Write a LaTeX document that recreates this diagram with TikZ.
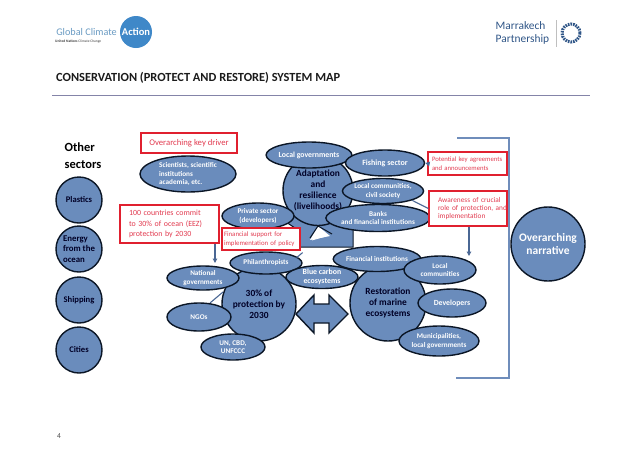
\documentclass[tikz,border=0pt]{standalone}
\usepackage{fontspec}
\setmainfont{Carlito}
\usetikzlibrary{shapes.geometric,arrows.meta}
\definecolor{fillb}{HTML}{6A8CBC}
\definecolor{lineb}{HTML}{0B1626}
\definecolor{linkb}{HTML}{4A6794}
\definecolor{brk}{HTML}{6F8DBB}
\definecolor{redb}{HTML}{E0202F}
\definecolor{redt}{HTML}{E23B50}
\definecolor{gcab}{HTML}{3F88C8}
\definecolor{gcat}{HTML}{6A9BC3}
\definecolor{mpb}{HTML}{2F5587}
\definecolor{rulec}{HTML}{8484A8}
\definecolor{titlec}{HTML}{1B1B1B}
\tikzset{
  x=1pt,y=-1pt,
  oval/.style={ellipse,draw=lineb,line width=1.4pt,fill=fillb,text=white,font=\bfseries\fontsize{7.2}{8.4}\selectfont,align=center,inner sep=0pt,minimum width=#1},
  oval/.default=70pt,
  bigc/.style={circle,draw=lineb,line width=1.4pt,fill=fillb,text=black!85!blue,font=\bfseries\fontsize{#1}{\the\dimexpr#1pt*118/100\relax}\selectfont,align=center,inner sep=0pt},
  redbox/.style={draw=redb,line width=1.2pt,fill=white,text=redt,align=left,inner sep=0pt,anchor=north west},
  link/.style={draw=linkb,line width=1.1pt},
  linka/.style={link,-{Triangle[length=4.5pt,width=4.5pt]}}
}
\begin{document}
\begin{tikzpicture}
\useasboundingbox (0,0) rectangle (638,451);
\fill[white] (0,0) rectangle (638,451);
% header
\node[circle,fill=gcab,minimum size=32pt,inner sep=0pt] (gcac) at (136,32) {};
\node[text=white,font=\bfseries\fontsize{10.5}{12}\selectfont] (gcaa) at (136,32) {Action};
\node[anchor=east,inner sep=0pt,text=gcat,font=\fontsize{10.2}{12}\selectfont] (gcat) at (117,31.5) {Global Climate};
\node[anchor=west,inner sep=0pt,text=black!75,font=\fontsize{3.6}{4}\selectfont] (gcas) at (55,42) {\textbf{United Nations} Climate Change};
\node[anchor=west,align=left,inner sep=0pt,text=mpb,font=\fontsize{11.4}{12.6}\selectfont] (mpt) at (495.5,33) {Marrakech\\Partnership};
\draw[black!25,line width=.5pt] (556,20) -- (556,47);
\node[circle,draw=mpb,dash pattern=on 1.6pt off 1pt,line width=3pt,minimum size=18pt,inner sep=0pt] (mpc) at (571,33) {};
\node[anchor=west,inner sep=0pt,text=titlec,font=\bfseries\fontsize{12.4}{14}\selectfont] (title) at (56,78) {CONSERVATION (PROTECT AND RESTORE) SYSTEM MAP};
\draw[rulec,line width=.9pt] (52,95.5) -- (590,95.5);
\node[text=black!70,font=\fontsize{7.5}{9}\selectfont] (pg) at (59,436) {4};
% left column
\node[anchor=west,align=left,inner sep=0pt,font=\bfseries\fontsize{12.5}{16.5}\selectfont] (other) at (64.5,155.5) {Other\\sectors};
\node[bigc=8.6,minimum size=46pt] (plastics) at (79,200) {Plastics};
\node[bigc=8.8,minimum size=46pt,align=left] (energy) at (79,249) {Energy\\from the\\ocean};
\node[bigc=8.6,minimum size=46pt] (shipping) at (79,300) {Shipping};
\node[bigc=8.6,minimum size=46pt] (cities) at (79,350) {Cities};
% bracket
\coordinate (bk1) at (457,138);
\coordinate (bk2) at (509,138);
\coordinate (bk3) at (509,378);
\coordinate (bk4) at (456,378);
\draw[brk,line width=1.1pt] (bk1) -- (bk2) -- (bk3) -- (bk4);
\node[bigc=11.5,minimum size=74pt,text=white] (narr) at (548,244) {Overarching\\narrative};
% central shape behind adaptation
\draw[fill=fillb,draw=lineb,line width=1pt] (286,222) -- (298,230) -- (300,247) -- (353,247) -- (353,228) -- (345,215) -- (300,205) -- cycle;
\fill[white] (318,226) -- (330,236) -- (310,240) -- cycle;
\draw[lineb,line width=1pt] (310,238) -- (318,226) -- (332,234);
\draw[white,line width=.8pt] (312,240) -- (326,236);
% big circles
\node[bigc=9.4,minimum size=70pt] (adapt) at (318,190.5) {Adaptation\\and\\resilience\\(livelihoods)};
\node[bigc=9.4,minimum size=74pt] (thirty) at (259,304) {30\% of\\protection by\\2030};
\node[bigc=9.4,minimum size=76pt] (resto) at (388,303) {Restoration\\of marine\\ecosystems};
% connectors
\coordinate (arrA) at (215,263);
\coordinate (arrB) at (469,256);
\draw[link] (223,292) -- (210,303);
% ovals
\node[oval=96pt,minimum height=36pt,align=left] (sci) at (188,174) {Scientists, scientific\\institutions\\academia, etc.};
\node[oval=72pt,minimum height=26pt] (priv) at (258,216) {Private sector\\(developers)};
\node[oval=76pt,minimum height=26pt,font=\bfseries\fontsize{7.8}{9}\selectfont] (lgov) at (309,155) {Local governments};
\node[oval=79pt,minimum height=26pt,font=\bfseries\fontsize{8}{9}\selectfont] (fish) at (385,163) {Fishing sector};
\node[oval=70pt,minimum height=25pt] (lcomm) at (383,191) {Local communities,\\civil society};
\node[oval=87pt,minimum height=27pt] (banks) at (378,218) {Banks\\and financial institutions};
\node[oval=76pt,minimum height=25pt] (fin) at (377,259) {Financial institutions};
\node[oval=72pt,minimum height=22pt] (phil) at (266,263) {Philanthropists};
\node[oval=72pt,minimum height=23pt,font=\bfseries\fontsize{7.8}{9}\selectfont] (blue) at (322,277) {Blue carbon\\ecosystems};
\node[oval=72pt,minimum height=24pt] (natl) at (203,278) {National\\governments};
\node[oval=64pt,minimum height=28pt] (ngo) at (199,317) {NGOs};
\node[oval=64pt,minimum height=26pt] (un) at (233,347) {UN, CBD,\\UNFCCC};
\node[oval=72pt,minimum height=28pt] (lc2) at (440,270) {Local\\communities};
\node[oval=68pt,minimum height=28pt,font=\bfseries\fontsize{7.8}{9}\selectfont] (dev) at (452,303) {Developers};
\node[oval=80pt,minimum height=30pt] (muni) at (439,341) {Municipalities,\\local governments};
% double arrow
\draw[fill=fillb,draw=lineb,line width=1.4pt] (296,314) -- (314,295) -- (314,304) -- (329,304) -- (329,295) -- (348,314) -- (329,333) -- (329,323) -- (314,323) -- (314,333) -- cycle;
% red boxes
\node[redbox,minimum width=96pt,minimum height=20pt,align=center,anchor=center,font=\fontsize{8.7}{10}\selectfont] (key) at (189,143) {Overarching key driver};
\node[redbox,minimum width=99pt,minimum height=38pt,anchor=center,text width=81pt,font=\fontsize{7.9}{10.2}\selectfont] (hundred) at (169.5,224) {100 countries commit\\to 30\% of ocean (EEZ)\\protection by 2030};
\node[redbox,minimum width=78pt,minimum height=22pt,anchor=center,text width=74pt,font=\fontsize{6.8}{8.4}\selectfont] (finsup) at (261,239) {Financial support for\\implementation of policy};
\node[redbox,minimum width=79pt,minimum height=23pt,anchor=center,text width=71pt,font=\fontsize{6.7}{8.4}\selectfont] (pot) at (467.5,163.5) {Potential key agreements\\and announcements};
\node[redbox,minimum width=78pt,minimum height=35pt,anchor=center,text width=60pt,font=\fontsize{7.3}{8.2}\selectfont] (aware) at (468,208.5) {\mbox{Awareness of crucial}\\\mbox{role of protection, and}\\\mbox{implementation}};
% arrows
\draw[linka] (hundred.south -| arrA) -- (arrA);
\draw[linka] (aware.south -| arrB) -- (arrB);
\draw[linka] (pot.west) -- (fish.east);
\draw[link] (aware.west) -- (lcomm.south east);
\draw[link] (finsup.south east) ++(-4,7) -- ++(6,-5);
\end{tikzpicture}
\end{document}
